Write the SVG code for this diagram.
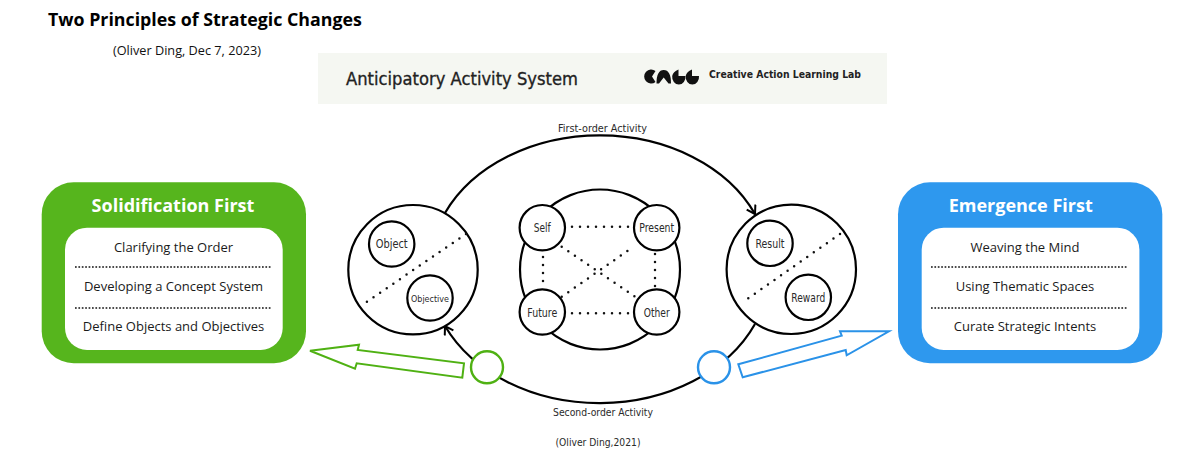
<svg xmlns="http://www.w3.org/2000/svg" width="1200" height="462" viewBox="0 0 1200 462">
<style>
.os{font-family:"Open Sans","Liberation Sans",sans-serif}
.dv{font-family:"DejaVu Sans","Liberation Sans",sans-serif;fill:#2a2a2a}
.item{font-size:13px;fill:#1a1a1a;text-anchor:middle}
.head{font-size:18px;font-weight:700;fill:#fff;text-anchor:middle}
.nl{font-size:11.500px;text-anchor:middle}
.cap{font-size:10.500px;text-anchor:middle}
.ln{fill:none;stroke:#000;stroke-width:2.2}
.nd{fill:#fff;stroke:#000;stroke-width:2.2}
.dot{fill:none;stroke:#111;stroke-width:2.5;stroke-linecap:round;stroke-dasharray:0 8}
.sep{fill:none;stroke:#111;stroke-width:1.6;stroke-dasharray:1.7 1.7}
.g{stroke:#4FB113}.b{stroke:#2A92E8}
.arr{fill:#fff;stroke-width:2}
.hub{fill:#fff;stroke-width:2.4}
</style>
<defs>
<marker id="open" viewBox="0 0 12 12" refX="11" refY="6" markerWidth="12" markerHeight="12" markerUnits="userSpaceOnUse" orient="auto">
<path d="M3 1 L11 6 L3 11" fill="none" stroke="#000" stroke-width="2"/>
</marker>
</defs>
<rect width="1200" height="462" fill="#fff"/>
<text class="os" x="48" y="25.500" font-size="17.800" font-weight="700" fill="#000">Two Principles of Strategic Changes</text>
<text class="os" x="113" y="55" font-size="12.700" fill="#111">(Oliver Ding, Dec 7, 2023)</text>
<g id="header">
<rect x="318" y="53" width="569" height="51" fill="#F5F7F2"/>
<text class="dv" x="346" y="85" font-size="18" font-weight="500" stroke="#222" stroke-width="0.35" textLength="232" lengthAdjust="spacingAndGlyphs" style="fill:#222">Anticipatory Activity System</text>
<g id="logo" fill="#111">
<path d="M655.500 71 A7 7 0 1 0 655.500 82 L652 76.500 Z"/>
<path d="M656.500 83.500 Q656.500 70 663.700 70 Q671 70 671 83.500 L668.500 83.500 L663.700 77.500 L659 83.500 Z"/>
<path d="M678.500 69.500 L678.500 76 L685.500 76 A6.700 7.500 0 1 1 672.200 76 Q673 71.500 678.500 69.500 Z"/>
<path d="M692 69.500 L692 76 L699 76 A6.700 7.500 0 1 1 685.700 76 Q686.500 71.500 692 69.500 Z"/>
</g>
<text class="dv" x="709" y="78" font-size="10" font-weight="700" textLength="152" lengthAdjust="spacingAndGlyphs" style="fill:#222">Creative Action Learning Lab</text>
</g>
<g id="connectors">
<path class="ln" marker-end="url(#open)" d="M445 213 A170 132.500 0 0 1 755 214"/>
<path class="ln" marker-end="url(#open)" d="M755 324 A170 132.500 0 0 1 445 326"/>
</g>
<text class="dv cap" x="602.500" y="132" textLength="89" lengthAdjust="spacingAndGlyphs">First-order Activity</text>
<text class="dv cap" x="603" y="415.500" textLength="100" lengthAdjust="spacingAndGlyphs">Second-order Activity</text>
<text class="dv cap" x="598" y="446" textLength="85" lengthAdjust="spacingAndGlyphs">(Oliver Ding,2021)</text>
<g id="center">
<circle class="nd" cx="600" cy="269.500" r="80"/>
<path class="dot" d="M572 226.700 H632"/>
<path class="dot" d="M572 313.300 H632"/>
<path class="dot" d="M543 257 V285"/>
<path class="dot" d="M655 254 V288"/>
<path class="dot" d="M561.700 246.700 L635 296.700"/>
<path class="dot" d="M561.700 296.700 L632.700 247.300"/>
</g>
<g id="node-self"><circle class="nd" cx="542.300" cy="227.700" r="22.700"/><text class="dv nl" x="542.300" y="231.500" textLength="17" lengthAdjust="spacingAndGlyphs">Self</text></g>
<g id="node-present"><circle class="nd" cx="656.700" cy="227.700" r="22.700"/><text class="dv nl" x="656.700" y="231.500" textLength="35" lengthAdjust="spacingAndGlyphs">Present</text></g>
<g id="node-future"><circle class="nd" cx="542.300" cy="312" r="22.700"/><text class="dv nl" x="542.300" y="317" textLength="30" lengthAdjust="spacingAndGlyphs">Future</text></g>
<g id="node-other"><circle class="nd" cx="656.700" cy="312" r="22.700"/><text class="dv nl" x="656.700" y="317" textLength="26" lengthAdjust="spacingAndGlyphs">Other</text></g>
<g id="node-left">
<circle class="nd" cx="413" cy="269.700" r="64.700"/>
<path class="dot" d="M466 234 L365 303"/>
<circle class="nd" cx="391.700" cy="244" r="22.700"/><text class="dv nl" x="391.700" y="248" textLength="32" lengthAdjust="spacingAndGlyphs">Object</text>
<circle class="nd" cx="430" cy="298" r="22.700"/><text class="dv nl" x="430" y="301.500" textLength="38" lengthAdjust="spacingAndGlyphs" style="font-size:9.500px">Objective</text>
</g>
<g id="node-right">
<circle class="nd" cx="791.300" cy="269.300" r="64.700"/>
<path class="dot" d="M840 234 L743 302"/>
<circle class="nd" cx="770" cy="243.300" r="22.700"/><text class="dv nl" x="770" y="248" textLength="29" lengthAdjust="spacingAndGlyphs">Result</text>
<circle class="nd" cx="808.300" cy="297.300" r="22.700"/><text class="dv nl" x="808.300" y="302" textLength="34" lengthAdjust="spacingAndGlyphs">Reward</text>
</g>
<g id="hub-green"><circle class="hub g" cx="487" cy="367.300" r="16"/></g>
<g id="hub-blue"><circle class="hub b" cx="714" cy="367.300" r="16"/></g>
<g id="arrow-green"><path class="arr g" d="M310 350.700 L359 344.700 L357.700 350 L464 363.300 L462.300 377.700 L356.700 363.300 L355 368.700 Z"/></g>
<g id="arrow-blue"><path class="arr b" d="M738.300 364.300 L841.700 335.700 L840 331.300 L889 331.300 L846.700 355.300 L845.700 350 L742.700 377.300 Z"/></g>
<g id="solidification">
<rect x="41.700" y="182.300" width="264.300" height="181" rx="32" fill="#56B51D"/>
<rect x="65" y="227.700" width="217.700" height="122.300" rx="22" fill="#fff"/>
<text class="os head" x="173" y="211.500">Solidification First</text>
<text class="os item" x="173.500" y="251.700">Clarifying the Order</text>
<path class="sep" d="M75 267 H271"/>
<text class="os item" x="173.500" y="291.400">Developing a Concept System</text>
<path class="sep" d="M75 308 H271"/>
<text class="os item" x="173.500" y="331">Define Objects and Objectives</text>
</g>
<g id="emergence">
<rect x="898" y="182.300" width="264.300" height="181" rx="32" fill="#2E98EE"/>
<rect x="921.700" y="227.700" width="217.700" height="122.300" rx="22" fill="#fff"/>
<text class="os head" x="1020.700" y="211.500">Emergence First</text>
<text class="os item" x="1025" y="251.700">Weaving the Mind</text>
<path class="sep" d="M931 267 H1127"/>
<text class="os item" x="1025" y="291.400">Using Thematic Spaces</text>
<path class="sep" d="M931 308 H1127"/>
<text class="os item" x="1025" y="331">Curate Strategic Intents</text>
</g>
</svg>
